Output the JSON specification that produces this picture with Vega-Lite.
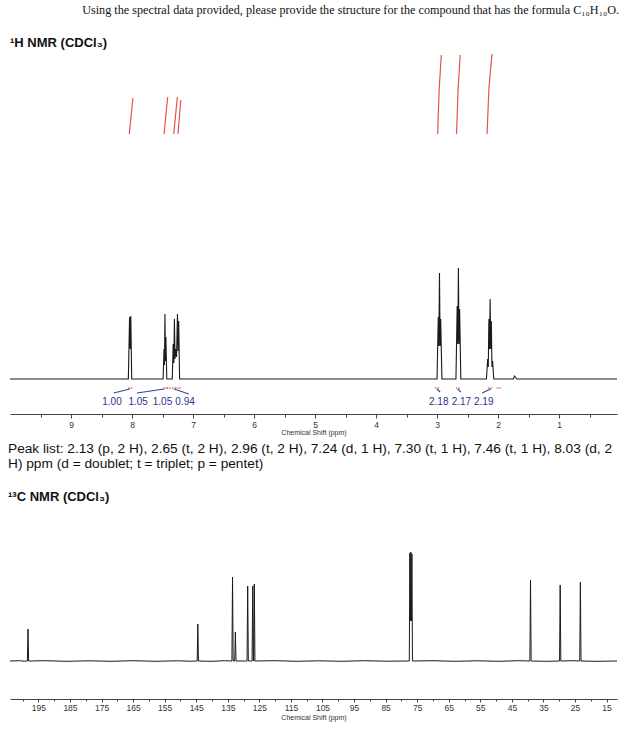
{
  "$schema": "https://vega.github.io/schema/vega-lite/v6.json",
  "background": "white",
  "padding": {"left": 8, "right": 13, "top": 3, "bottom": 2},
  "title": {
    "text": "Using the spectral data provided, please provide the structure for the compound that has the formula C₁₀H₁₀O.",
    "anchor": "end", "font": "Liberation Serif", "fontSize": 12.2, "fontWeight": "normal",
    "color": "#111111", "offset": 21, "dx": 0
  },
  "datasets": {
    "h": [
      {"ppm": 10.0, "i": 0},
      {"ppm": 8.06, "i": 0}, {"ppm": 8.04, "i": 62}, {"ppm": 8.03, "i": 30}, {"ppm": 8.02, "i": 63}, {"ppm": 8.005, "i": 0},
      {"ppm": 7.49, "i": 0}, {"ppm": 7.475, "i": 30}, {"ppm": 7.468, "i": 14}, {"ppm": 7.46, "i": 65}, {"ppm": 7.452, "i": 18}, {"ppm": 7.445, "i": 42}, {"ppm": 7.43, "i": 0},
      {"ppm": 7.34, "i": 0}, {"ppm": 7.325, "i": 35}, {"ppm": 7.315, "i": 16}, {"ppm": 7.305, "i": 60}, {"ppm": 7.295, "i": 20}, {"ppm": 7.285, "i": 30}, {"ppm": 7.27, "i": 22}, {"ppm": 7.255, "i": 65}, {"ppm": 7.245, "i": 28}, {"ppm": 7.235, "i": 58}, {"ppm": 7.22, "i": 0},
      {"ppm": 3.0, "i": 0}, {"ppm": 2.98, "i": 62}, {"ppm": 2.97, "i": 33}, {"ppm": 2.96, "i": 106}, {"ppm": 2.95, "i": 33}, {"ppm": 2.94, "i": 60}, {"ppm": 2.92, "i": 0},
      {"ppm": 2.69, "i": 0}, {"ppm": 2.67, "i": 73}, {"ppm": 2.66, "i": 35}, {"ppm": 2.65, "i": 111}, {"ppm": 2.64, "i": 35}, {"ppm": 2.63, "i": 70}, {"ppm": 2.61, "i": 0},
      {"ppm": 2.19, "i": 0}, {"ppm": 2.17, "i": 20}, {"ppm": 2.16, "i": 12}, {"ppm": 2.15, "i": 60}, {"ppm": 2.14, "i": 30}, {"ppm": 2.13, "i": 80}, {"ppm": 2.12, "i": 30}, {"ppm": 2.11, "i": 58}, {"ppm": 2.1, "i": 12}, {"ppm": 2.09, "i": 18}, {"ppm": 2.07, "i": 0},
      {"ppm": 1.75, "i": 0}, {"ppm": 1.73, "i": 3}, {"ppm": 1.71, "i": 1.5}, {"ppm": 1.69, "i": 0},
      {"ppm": 0.05, "i": 0}
    ],
    "integ": [
      {"ppm": 8.045, "i": 245, "g": "a"}, {"ppm": 7.985, "i": 281, "g": "a"},
      {"ppm": 7.475, "i": 245, "g": "b"}, {"ppm": 7.415, "i": 282, "g": "b"},
      {"ppm": 7.316, "i": 245, "g": "c"}, {"ppm": 7.257, "i": 282, "g": "c"},
      {"ppm": 7.246, "i": 245, "g": "d"}, {"ppm": 7.2, "i": 279, "g": "d"},
      {"ppm": 2.99, "i": 245, "g": "e"}, {"ppm": 2.965, "i": 290, "g": "e"}, {"ppm": 2.93, "i": 324, "g": "e"},
      {"ppm": 2.68, "i": 245, "g": "f"}, {"ppm": 2.655, "i": 290, "g": "f"}, {"ppm": 2.62, "i": 324, "g": "f"},
      {"ppm": 2.18, "i": 245, "g": "h"}, {"ppm": 2.15, "i": 290, "g": "h"}, {"ppm": 2.1, "i": 325, "g": "h"}
    ],
    "brk": [
      {"ppm": 8.3, "i": -14, "g": "a"}, {"ppm": 8.035, "i": -10, "g": "a"},
      {"ppm": 7.92, "i": -14, "g": "b"}, {"ppm": 7.47, "i": -10, "g": "b"},
      {"ppm": 7.31, "i": -10, "g": "c"}, {"ppm": 7.07, "i": -15, "g": "c"},
      {"ppm": 3.0, "i": -10, "g": "d"}, {"ppm": 2.95, "i": -13, "g": "d"},
      {"ppm": 2.66, "i": -10, "g": "e"}, {"ppm": 2.61, "i": -13, "g": "e"},
      {"ppm": 2.26, "i": -14, "g": "f"}, {"ppm": 2.12, "i": -10, "g": "f"}
    ],
    "rm": [
      {"ppm": 8.03, "i": -9}, {"ppm": 7.45, "i": -9}, {"ppm": 7.4, "i": -9}, {"ppm": 7.31, "i": -9}, {"ppm": 7.235, "i": -9},
      {"ppm": 3.0, "i": -9}, {"ppm": 2.66, "i": -9}, {"ppm": 2.13, "i": -9}, {"ppm": 1.99, "i": -9}
    ],
    "lab": [
      {"ppm": 8.328, "i": -23, "t": "1.00"}, {"ppm": 7.9, "i": -23, "t": "1.05"}, {"ppm": 7.5, "i": -23, "t": "1.05"}, {"ppm": 7.13, "i": -23, "t": "0.94"},
      {"ppm": 2.972, "i": -23, "t": "2.18"}, {"ppm": 2.6, "i": -23, "t": "2.17"}, {"ppm": 2.234, "i": -23, "t": "2.19"}
    ],
    "c": [
      {"ppm": 204, "i": 0}, {"ppm": 201, "i": 0.3}, {"ppm": 199.5, "i": -0.2},
      {"ppm": 198.5, "i": 0}, {"ppm": 198.3, "i": 32}, {"ppm": 198.1, "i": 0},
      {"ppm": 193, "i": 0.3}, {"ppm": 186, "i": -0.3}, {"ppm": 179, "i": 0.2}, {"ppm": 172, "i": -0.3}, {"ppm": 165, "i": 0.3}, {"ppm": 158, "i": -0.3}, {"ppm": 151, "i": 0.2}, {"ppm": 147, "i": -0.2},
      {"ppm": 144.7, "i": 0}, {"ppm": 144.5, "i": 37}, {"ppm": 144.3, "i": 0},
      {"ppm": 140, "i": -0.3}, {"ppm": 136, "i": 0.3},
      {"ppm": 133.7, "i": 0}, {"ppm": 133.5, "i": 84}, {"ppm": 133.3, "i": 0},
      {"ppm": 132.8, "i": 0}, {"ppm": 132.6, "i": 29}, {"ppm": 132.4, "i": 0},
      {"ppm": 128.9, "i": 0}, {"ppm": 128.7, "i": 75}, {"ppm": 128.5, "i": 0},
      {"ppm": 127.3, "i": 0}, {"ppm": 127.1, "i": 75}, {"ppm": 126.9, "i": 0},
      {"ppm": 126.8, "i": 0}, {"ppm": 126.6, "i": 77}, {"ppm": 126.4, "i": 0},
      {"ppm": 120, "i": 0.3}, {"ppm": 113, "i": -0.3}, {"ppm": 106, "i": 0.2}, {"ppm": 99, "i": -0.3}, {"ppm": 92, "i": 0.3}, {"ppm": 85, "i": -0.2},
      {"ppm": 77.5, "i": 0}, {"ppm": 77.32, "i": 108}, {"ppm": 77.16, "i": 40}, {"ppm": 77.0, "i": 109}, {"ppm": 76.84, "i": 40}, {"ppm": 76.68, "i": 107}, {"ppm": 76.5, "i": 0},
      {"ppm": 70, "i": 0.3}, {"ppm": 63, "i": -0.3}, {"ppm": 56, "i": 0.2}, {"ppm": 49, "i": -0.3}, {"ppm": 43, "i": 0.3},
      {"ppm": 39.3, "i": 0}, {"ppm": 39.1, "i": 81}, {"ppm": 38.9, "i": 0},
      {"ppm": 34, "i": -0.3},
      {"ppm": 29.9, "i": 0}, {"ppm": 29.7, "i": 76}, {"ppm": 29.5, "i": 0},
      {"ppm": 26, "i": 0.3},
      {"ppm": 23.5, "i": 0}, {"ppm": 23.3, "i": 79}, {"ppm": 23.1, "i": 0},
      {"ppm": 18, "i": -0.3}, {"ppm": 11.7, "i": 0}
    ]
  },
  "spacing": 6,
  "vconcat": [
    {
      "title": {"text": "¹H NMR (CDCl₃)", "anchor": "start", "font": "Liberation Sans", "fontSize": 13, "fontWeight": "bold", "color": "#111111", "offset": 1},
      "width": 607,
      "height": 363,
      "encoding": {
        "x": {
          "field": "ppm", "type": "quantitative",
          "scale": {"domain": [0.05, 10], "reverse": true, "nice": false, "zero": false},
          "axis": {
            "values": [0.5, 1, 1.5, 2, 2.5, 3, 3.5, 4, 4.5, 5, 5.5, 6, 6.5, 7, 7.5, 8, 8.5, 9, 9.5],
            "labelExpr": "datum.value % 1 === 0 ? format(datum.value, 'd') : ''",
            "labelOverlap": false, "labelFlush": false,
            "tickSize": {"condition": {"test": "datum.value % 1 === 0", "value": 4}, "value": 3},
            "labelPadding": 2,
            "title": "Chemical Shift (ppm)"
          }
        },
        "y": {"field": "i", "type": "quantitative", "scale": {"domain": [-35, 328], "nice": false, "zero": false}, "axis": null}
      },
      "layer": [
        {"data": {"name": "h"}, "mark": {"type": "line", "color": "#1a1a1a", "strokeWidth": 1.1, "clip": true}},
        {"data": {"name": "integ"}, "mark": {"type": "line", "color": "#e5534b", "strokeWidth": 1.2}, "encoding": {"detail": {"field": "g", "type": "nominal"}}},
        {"data": {"name": "brk"}, "mark": {"type": "line", "color": "#3a3f9e", "strokeWidth": 1.1}, "encoding": {"detail": {"field": "g", "type": "nominal"}}},
        {"data": {"name": "rm"}, "mark": {"type": "point", "shape": "M-1,-0.6L-1,0.6L1,-0.6L1,0.6Z", "filled": true, "color": "#e5534b", "size": 14, "opacity": 1}},
        {"data": {"name": "lab"}, "mark": {"type": "text", "font": "Liberation Sans", "fontSize": 10, "color": "#2e3192", "align": "center", "baseline": "middle"}, "encoding": {"text": {"field": "t", "type": "nominal"}}}
      ]
    },
    {
      "title": {
        "text": ["Peak list: 2.13 (p, 2 H), 2.65 (t, 2 H), 2.96 (t, 2 H), 7.24 (d, 1 H), 7.30 (t, 1 H), 7.46 (t, 1 H), 8.03 (d, 2", "H) ppm (d = doublet; t = triplet; p = pentet)"],
        "subtitle": "¹³C NMR (CDCl₃)",
        "anchor": "start", "font": "Liberation Sans", "fontSize": 13.7, "fontWeight": "normal", "lineHeight": 15, "color": "#111111",
        "subtitleFont": "Liberation Sans", "subtitleFontSize": 13, "subtitleFontWeight": "bold", "subtitleColor": "#111111", "subtitlePadding": 20,
        "offset": 42
      },
      "width": 607,
      "height": 153,
      "data": {"name": "c"},
      "mark": {"type": "line", "color": "#1a1a1a", "strokeWidth": 1},
      "encoding": {
        "x": {
          "field": "ppm", "type": "quantitative",
          "scale": {"domain": [11.7, 204], "reverse": true, "nice": false, "zero": false},
          "axis": {
            "values": [15, 20, 25, 30, 35, 40, 45, 50, 55, 60, 65, 70, 75, 80, 85, 90, 95, 100, 105, 110, 115, 120, 125, 130, 135, 140, 145, 150, 155, 160, 165, 170, 175, 180, 185, 190, 195, 200],
            "labelExpr": "datum.value % 10 === 5 ? datum.label : ''",
            "labelOverlap": false, "labelFlush": false,
            "tickSize": {"condition": {"test": "datum.value % 10 === 5", "value": 3}, "value": 2},
            "labelPadding": 1,
            "titlePadding": 2,
            "title": "Chemical Shift (ppm)"
          }
        },
        "y": {"field": "i", "type": "quantitative", "scale": {"domain": [-38, 115], "nice": false, "zero": false}, "axis": null}
      }
    }
  ],
  "config": {
    "view": {"stroke": null},
    "font": "Liberation Sans",
    "axis": {
      "grid": false, "domainColor": "#444444", "tickColor": "#444444", "labelColor": "#333333",
      "labelFont": "Liberation Sans", "labelFontSize": 8.5, "labelPadding": 2,
      "titleFont": "Liberation Sans", "titleFontSize": 7, "titleFontWeight": "normal", "titleColor": "#333333", "titlePadding": 0
    }
  }
}
